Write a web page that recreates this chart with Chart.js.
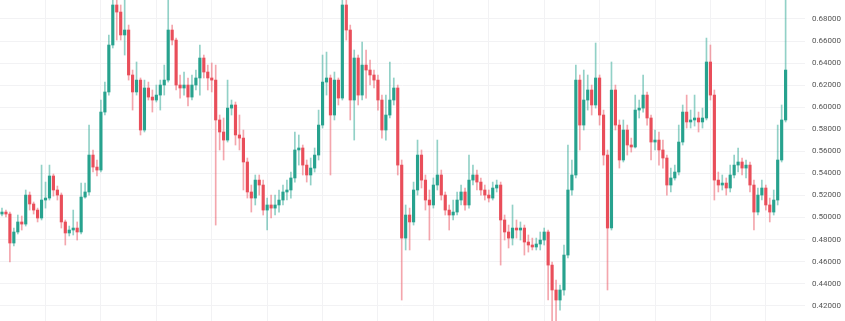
<!DOCTYPE html>
<html>
<head>
<meta charset="utf-8">
<script src="https://cdn.jsdelivr.net/npm/chart.js@4.4.1/dist/chart.umd.min.js"></script>
<style>
html, body { margin: 0; padding: 0; background: #ffffff; }
#wrap { width: 845px; height: 321px; }
</style>
</head>
<body>
<div id="wrap"><canvas id="chart" width="845" height="321"></canvas></div>
<script>
// OHLC candles, one entry per candle, left to right
var opens = [
    0.5031, 0.5049, 0.5031, 0.4768, 0.4868, 0.4959, 0.4940, 0.5203, 0.5122, 0.5067,
    0.4995, 0.5158, 0.5176, 0.5376, 0.5249, 0.5203, 0.4959, 0.4859, 0.4886, 0.4904,
    0.4868, 0.5185, 0.5231, 0.5566, 0.5457, 0.5430, 0.5956, 0.6138, 0.6564, 0.6927,
    0.6863, 0.6655, 0.6700, 0.6292, 0.6138, 0.6246, 0.5793, 0.6174, 0.6092, 0.6065,
    0.6110, 0.6201, 0.6246, 0.6700, 0.6609, 0.6201, 0.6174, 0.6201, 0.6092, 0.6201,
    0.6265, 0.6446, 0.6319, 0.6265, 0.6246, 0.5884, 0.5775, 0.5702, 0.5992, 0.6020,
    0.5748, 0.5720, 0.5503, 0.5231, 0.5176, 0.5339, 0.5294, 0.5067, 0.5113, 0.5085,
    0.5113, 0.5158, 0.5231, 0.5249, 0.5358, 0.5612, 0.5630, 0.5475, 0.5385, 0.5448,
    0.5566, 0.5838, 0.6228, 0.6265, 0.5929, 0.6246, 0.6083, 0.6927, 0.6700, 0.6065,
    0.6446, 0.6110, 0.6382, 0.6337, 0.6292, 0.6246, 0.6065, 0.5793, 0.5929, 0.6065,
    0.6174, 0.5475, 0.4813, 0.5022, 0.4959, 0.5249, 0.5566, 0.5339, 0.5158, 0.5113,
    0.5294, 0.5385, 0.5203, 0.5067, 0.5022, 0.5049, 0.5158, 0.5231, 0.5113, 0.5339,
    0.5385, 0.5321, 0.5249, 0.5203, 0.5176, 0.5267, 0.5294, 0.4977, 0.4868, 0.4813,
    0.4904, 0.4886, 0.4904, 0.4777, 0.4750, 0.4732, 0.4759, 0.4795, 0.4868, 0.4568,
    0.4342, 0.4251, 0.4342, 0.4659, 0.5249, 0.5385, 0.6246, 0.5838, 0.6065, 0.6156,
    0.6020, 0.6265, 0.5929, 0.5566, 0.4904, 0.6156, 0.5838, 0.5521, 0.5793, 0.5657,
    0.5639, 0.5974, 0.5992, 0.6110, 0.5902, 0.5684, 0.5702, 0.5612, 0.5539, 0.5294,
    0.5358, 0.5412, 0.5684, 0.5956, 0.5866, 0.5884, 0.5902, 0.5866, 0.5902, 0.6410,
    0.6110, 0.5339, 0.5294, 0.5312, 0.5267, 0.5385, 0.5475, 0.5503, 0.5448, 0.5475,
    0.5294, 0.5049, 0.5203, 0.5267, 0.5113, 0.5049, 0.5158, 0.5521, 0.5884
];
var highs = [
    0.5085, 0.5067, 0.5049, 0.4904, 0.5022, 0.5013, 0.5249, 0.5231, 0.5140, 0.5085,
    0.5475, 0.5321, 0.5475, 0.5394, 0.5285, 0.5222, 0.4977, 0.4922, 0.5067, 0.4959,
    0.5312, 0.5312, 0.5838, 0.5612, 0.5521, 0.6065, 0.6228, 0.6655, 0.7063, 0.7063,
    0.6927, 0.7017, 0.6745, 0.6337, 0.6410, 0.6265, 0.6246, 0.6228, 0.6156, 0.6201,
    0.6246, 0.6382, 0.6972, 0.6745, 0.6627, 0.6292, 0.6319, 0.6265, 0.6292, 0.6337,
    0.6564, 0.6473, 0.6382, 0.6401, 0.6382, 0.5929, 0.5902, 0.6246, 0.6065, 0.6047,
    0.5929, 0.5793, 0.5539, 0.5294, 0.5385, 0.5385, 0.5339, 0.5176, 0.5203, 0.5203,
    0.5249, 0.5294, 0.5339, 0.5412, 0.5775, 0.5748, 0.5657, 0.5521, 0.5539, 0.5630,
    0.5974, 0.6473, 0.6500, 0.6292, 0.6319, 0.6265, 0.7063, 0.7017, 0.6745, 0.6519,
    0.6473, 0.6591, 0.6519, 0.6428, 0.6337, 0.6292, 0.6110, 0.6110, 0.6410, 0.6265,
    0.6201, 0.5521, 0.5113, 0.5085, 0.5321, 0.5702, 0.5612, 0.5385, 0.5249, 0.5358,
    0.5702, 0.5430, 0.5231, 0.5113, 0.5158, 0.5231, 0.5294, 0.5267, 0.5566, 0.5475,
    0.5430, 0.5358, 0.5294, 0.5249, 0.5321, 0.5339, 0.5321, 0.5022, 0.4931, 0.5113,
    0.4977, 0.4959, 0.4931, 0.4841, 0.4813, 0.4813, 0.4868, 0.4904, 0.4886, 0.4596,
    0.4432, 0.4387, 0.4750, 0.5657, 0.5521, 0.6382, 0.6292, 0.6337, 0.6292, 0.6201,
    0.6582, 0.6292, 0.5974, 0.5612, 0.6410, 0.6201, 0.5884, 0.5884, 0.5838, 0.5720,
    0.6110, 0.6065, 0.6292, 0.6138, 0.5929, 0.5793, 0.5775, 0.5702, 0.5566, 0.5448,
    0.5475, 0.5838, 0.6020, 0.6110, 0.5974, 0.6110, 0.5956, 0.5992, 0.6627, 0.6564,
    0.6156, 0.5412, 0.5385, 0.5358, 0.5475, 0.5566, 0.5630, 0.5539, 0.5521, 0.5503,
    0.5339, 0.5267, 0.5339, 0.5294, 0.5176, 0.5249, 0.5838, 0.6020, 0.7153
];
var lows = [
    0.5013, 0.5004, 0.4596, 0.4741, 0.4850, 0.4886, 0.4922, 0.5067, 0.5031, 0.4959,
    0.4977, 0.5085, 0.5158, 0.5194, 0.5158, 0.4904, 0.4750, 0.4832, 0.4841, 0.4795,
    0.4850, 0.5176, 0.5203, 0.5412, 0.5376, 0.5412, 0.5929, 0.6110, 0.6537, 0.6609,
    0.6609, 0.6473, 0.6246, 0.5974, 0.6110, 0.5748, 0.5775, 0.6065, 0.5956, 0.6047,
    0.5974, 0.6110, 0.6228, 0.6564, 0.6156, 0.6083, 0.6110, 0.6011, 0.6065, 0.6156,
    0.6110, 0.6265, 0.6156, 0.6138, 0.4931, 0.5612, 0.5521, 0.5684, 0.5929, 0.5657,
    0.5612, 0.5249, 0.5176, 0.5049, 0.5113, 0.5203, 0.5022, 0.4886, 0.4995, 0.5022,
    0.5049, 0.5113, 0.5158, 0.5176, 0.5321, 0.5475, 0.5385, 0.5321, 0.5294, 0.5412,
    0.5521, 0.5811, 0.6110, 0.5385, 0.5884, 0.6020, 0.6065, 0.6609, 0.5884, 0.5702,
    0.6020, 0.6065, 0.6083, 0.6201, 0.6174, 0.5974, 0.5720, 0.5702, 0.5902, 0.6020,
    0.5385, 0.4251, 0.4705, 0.4705, 0.4931, 0.5203, 0.5267, 0.5067, 0.4795, 0.5085,
    0.5249, 0.5158, 0.5022, 0.4886, 0.4977, 0.5022, 0.5113, 0.5067, 0.5085, 0.5294,
    0.5249, 0.5203, 0.5158, 0.5140, 0.5158, 0.5231, 0.4568, 0.4795, 0.4723, 0.4750,
    0.4813, 0.4795, 0.4659, 0.4686, 0.4705, 0.4705, 0.4705, 0.4750, 0.4251, 0.3979,
    0.3934, 0.4160, 0.4296, 0.4632, 0.5203, 0.5358, 0.5612, 0.5793, 0.5974, 0.5929,
    0.5992, 0.5838, 0.5475, 0.4342, 0.4886, 0.5793, 0.5448, 0.5503, 0.5566, 0.5593,
    0.5630, 0.5902, 0.5956, 0.5838, 0.5521, 0.5612, 0.5475, 0.5448, 0.5203, 0.5231,
    0.5339, 0.5385, 0.5657, 0.5811, 0.5811, 0.5829, 0.5775, 0.5811, 0.5884, 0.6065,
    0.5158, 0.5231, 0.5249, 0.5203, 0.5231, 0.5358, 0.5412, 0.5385, 0.5358, 0.5231,
    0.4886, 0.5022, 0.5158, 0.5067, 0.4959, 0.5022, 0.5113, 0.5503, 0.5866
];
var closes = [
    0.5049, 0.5031, 0.4768, 0.4868, 0.4959, 0.4940, 0.5203, 0.5122, 0.5067, 0.4995,
    0.5158, 0.5176, 0.5376, 0.5249, 0.5203, 0.4959, 0.4859, 0.4886, 0.4904, 0.4868,
    0.5185, 0.5231, 0.5566, 0.5457, 0.5430, 0.5956, 0.6138, 0.6564, 0.6927, 0.6863,
    0.6655, 0.6700, 0.6292, 0.6138, 0.6246, 0.5793, 0.6174, 0.6092, 0.6065, 0.6110,
    0.6201, 0.6246, 0.6700, 0.6609, 0.6201, 0.6174, 0.6201, 0.6092, 0.6201, 0.6265,
    0.6446, 0.6319, 0.6265, 0.6246, 0.5884, 0.5775, 0.5702, 0.5992, 0.6020, 0.5748,
    0.5720, 0.5503, 0.5231, 0.5176, 0.5339, 0.5294, 0.5067, 0.5113, 0.5085, 0.5113,
    0.5158, 0.5231, 0.5249, 0.5358, 0.5612, 0.5630, 0.5475, 0.5385, 0.5448, 0.5566,
    0.5838, 0.6228, 0.6265, 0.5929, 0.6246, 0.6083, 0.6927, 0.6700, 0.6065, 0.6446,
    0.6110, 0.6382, 0.6337, 0.6292, 0.6246, 0.6065, 0.5793, 0.5929, 0.6065, 0.6174,
    0.5475, 0.4813, 0.5022, 0.4959, 0.5249, 0.5566, 0.5339, 0.5158, 0.5113, 0.5294,
    0.5385, 0.5203, 0.5067, 0.5022, 0.5049, 0.5158, 0.5231, 0.5113, 0.5339, 0.5385,
    0.5321, 0.5249, 0.5203, 0.5176, 0.5267, 0.5294, 0.4977, 0.4868, 0.4813, 0.4904,
    0.4886, 0.4904, 0.4777, 0.4750, 0.4732, 0.4759, 0.4795, 0.4868, 0.4568, 0.4342,
    0.4251, 0.4342, 0.4659, 0.5249, 0.5385, 0.6246, 0.5838, 0.6065, 0.6156, 0.6020,
    0.6265, 0.5929, 0.5566, 0.4904, 0.6156, 0.5838, 0.5521, 0.5793, 0.5657, 0.5639,
    0.5974, 0.5992, 0.6110, 0.5902, 0.5684, 0.5702, 0.5612, 0.5539, 0.5294, 0.5358,
    0.5412, 0.5684, 0.5956, 0.5866, 0.5884, 0.5902, 0.5866, 0.5902, 0.6410, 0.6110,
    0.5339, 0.5294, 0.5312, 0.5267, 0.5385, 0.5475, 0.5503, 0.5448, 0.5475, 0.5294,
    0.5049, 0.5203, 0.5267, 0.5113, 0.5049, 0.5158, 0.5521, 0.5884, 0.6337
];

// visible price window and tick step of the right axis
var priceMin = 0.40608;
var priceMax = 0.69723;
var priceStep = 0.02;

var upColor = '#27a28e';
var downColor = '#e94e5a';
var upWick = 'rgba(38, 163, 143, 0.5)';
var downWick = 'rgba(234, 78, 91, 0.5)';
var gridColor = '#f2f2f4';

var isUp = closes.map(function (c, i) { return c >= opens[i]; });

var bodies = closes.map(function (c, i) {
    return { x: i, y: [opens[i], c] };
});
var wicks = closes.map(function (c, i) {
    return { x: i, y: [lows[i], highs[i]] };
});

var ctx = document.getElementById('chart').getContext('2d');
var chart = new Chart(ctx, {
    type: 'bar',
    data: {
        datasets: [{
            label: 'body',
            data: bodies,
            backgroundColor: isUp.map(function (u) { return u ? upColor : downColor; }),
            barThickness: 2.5,
            minBarLength: 1,
            grouped: false,
            order: 0
        }, {
            label: 'wick',
            data: wicks,
            backgroundColor: isUp.map(function (u) { return u ? upWick : downWick; }),
            barThickness: 1,
            grouped: false,
            order: 1
        }]
    },
    options: {
        responsive: false,
        animation: false,
        layout: { padding: 0 },
        plugins: {
            legend: { display: false },
            tooltip: { enabled: false }
        },
        scales: {
            x: {
                type: 'linear',
                min: -0.5,
                max: closes.length + 3.9,
                offset: false,
                grid: { color: gridColor, drawTicks: false, offset: false },
                border: { display: false },
                ticks: { display: false },
                afterBuildTicks: function (axis) {
                    // one vertical line every 14 candles
                    var t = [];
                    for (var v = 11; v <= axis.max; v += 14) t.push({ value: v });
                    axis.ticks = t;
                },
                afterFit: function (axis) { axis.height = 0; }
            },
            y: {
                position: 'right',
                min: priceMin,
                max: priceMax,
                grid: { color: gridColor, drawTicks: false },
                border: { display: false },
                ticks: {
                    stepSize: priceStep,
                    includeBounds: false,
                    padding: 7,
                    color: '#555555',
                    font: { family: 'Roboto', size: 8 },
                    callback: function (v) { return Number(v).toFixed(5); }
                },
                afterFit: function (axis) {
                    axis.width = 40;
                    axis.paddingTop = 0;
                    axis.paddingBottom = 0;
                }
            }
        }
    }
});
</script>
</body>
</html>
